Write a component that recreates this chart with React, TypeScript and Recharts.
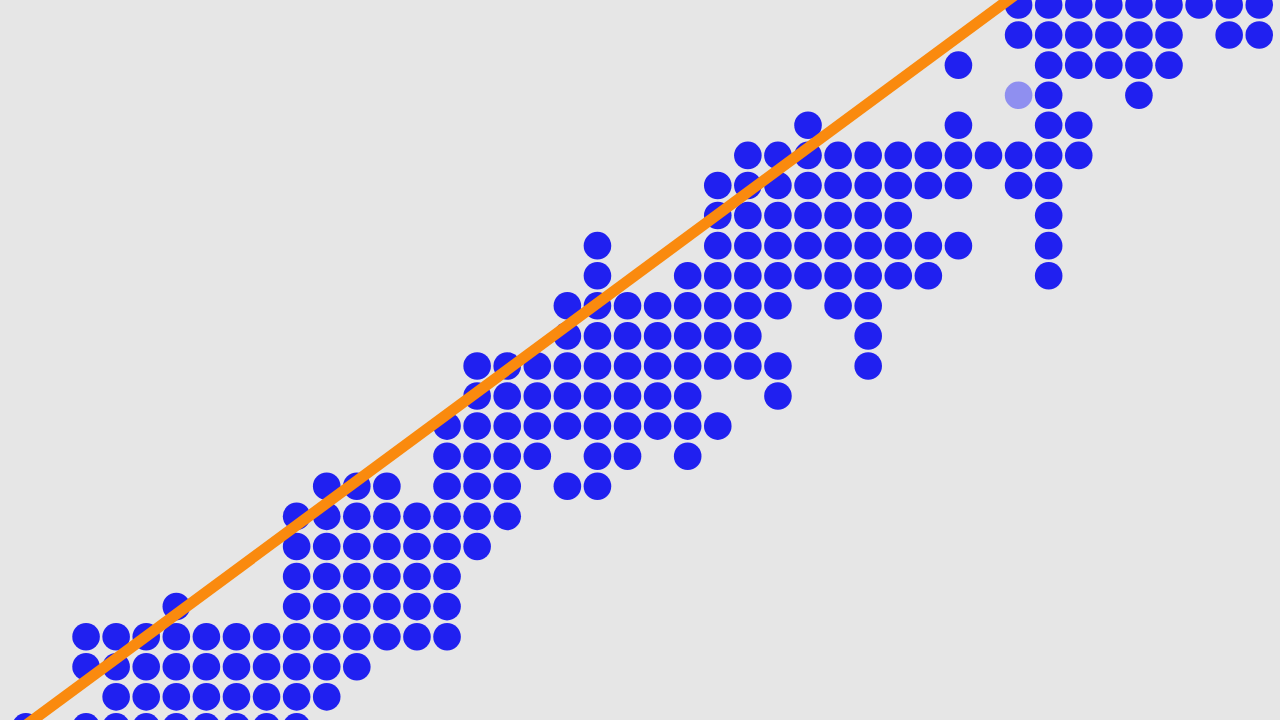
import React from 'react'
import { ScatterChart, Scatter, XAxis, YAxis } from 'recharts'

// occupied grid columns for every row, top row (0) first
const rowCols: number[][] = [
  [33, 34, 35, 36, 37, 38, 39, 40, 41],
  [33, 34, 35, 36, 37, 38, 40, 41],
  [31, 34, 35, 36, 37, 38],
  [34, 37],
  [26, 31, 34, 35],
  [24, 25, 26, 27, 28, 29, 30, 31, 32, 33, 34, 35],
  [23, 24, 25, 26, 27, 28, 29, 30, 31, 33, 34],
  [23, 24, 25, 26, 27, 28, 29, 34],
  [19, 23, 24, 25, 26, 27, 28, 29, 30, 31, 34],
  [19, 22, 23, 24, 25, 26, 27, 28, 29, 30, 34],
  [18, 19, 20, 21, 22, 23, 24, 25, 27, 28],
  [18, 19, 20, 21, 22, 23, 24, 28],
  [15, 16, 17, 18, 19, 20, 21, 22, 23, 24, 25, 28],
  [15, 16, 17, 18, 19, 20, 21, 22, 25],
  [14, 15, 16, 17, 18, 19, 20, 21, 22, 23],
  [14, 15, 16, 17, 19, 20, 22],
  [10, 11, 12, 14, 15, 16, 18, 19],
  [9, 10, 11, 12, 13, 14, 15, 16],
  [9, 10, 11, 12, 13, 14, 15],
  [9, 10, 11, 12, 13, 14],
  [5, 9, 10, 11, 12, 13, 14],
  [2, 3, 4, 5, 6, 7, 8, 9, 10, 11, 12, 13, 14],
  [2, 3, 4, 5, 6, 7, 8, 9, 10, 11],
  [3, 4, 5, 6, 7, 8, 9, 10],
  [0, 2, 3, 4, 5, 6, 7, 8, 9],
]

// the one faded dot
const highlightDots = [{ col: 33, row: 3 }]

// fitted trend line, end points past the edges
const trendLine = [
  { col: -1, row: 24.68 },
  { col: 33.5, row: -0.79 },
]

const xDomain = [-0.861, 41.69]
const yDomain = [-0.166, 23.77]

const dots = rowCols.flatMap((cols, row) => cols.map((col) => ({ col, row })))

const Dot = (fill: string) => (props: any) => (
  <circle cx={props.cx} cy={props.cy} r={13.8} fill={fill} />
)

export default function App() {
  return (
    <div
      style={{
        position: 'absolute',
        left: 0,
        top: 0,
        width: 1280,
        height: 720,
        background: '#e6e6e6',
        overflow: 'hidden',
      }}
    >
      <ScatterChart
        width={1280}
        height={720}
        margin={{ top: 0, right: 0, bottom: 0, left: 0 }}
      >
        <XAxis
          type="number"
          dataKey="col"
          domain={xDomain}
          allowDataOverflow
          hide
        />
        <YAxis
          type="number"
          dataKey="row"
          domain={yDomain}
          reversed
          allowDataOverflow
          hide
        />
        <Scatter
          data={dots}
          shape={Dot('#2020f0')}
          isAnimationActive={false}
        />
        <Scatter
          data={highlightDots}
          shape={Dot('#8f8ff0')}
          isAnimationActive={false}
        />
        <Scatter
          data={trendLine}
          line={{ stroke: '#fa8a0e', strokeWidth: 11 }}
          shape={() => <g />}
          isAnimationActive={false}
        />
      </ScatterChart>
    </div>
  )
}
